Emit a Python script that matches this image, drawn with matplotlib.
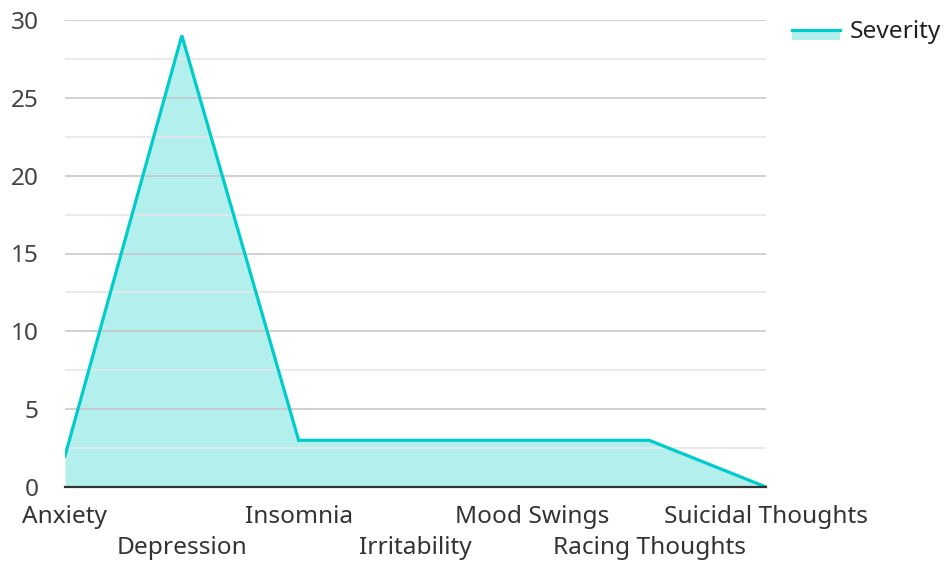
import matplotlib
matplotlib.use("Agg")
import matplotlib.pyplot as plt
from matplotlib.patches import Rectangle
from matplotlib.lines import Line2D
from matplotlib.legend_handler import HandlerBase

plt.rcParams['font.family'] = ['Noto Sans', 'DejaVu Sans']

# data
symptoms = ["Anxiety", "Depression", "Insomnia", "Irritability",
            "Mood Swings", "Racing Thoughts", "Suicidal Thoughts"]
severity = [2, 29, 3, 3, 3, 3, 0]
y_ticks = [0, 5, 10, 15, 20, 25, 30]

LINE_C = "#00cccc"
FILL_C = "#b2efed"
FS = 17.6


class AreaHandler(HandlerBase):
    """Legend key: line on top of a filled strip."""
    def create_artists(self, legend, orig, xd, yd, w, h, fontsize, trans):
        rect = Rectangle((xd, yd - 0.15 * h), w, 0.6 * h, facecolor=FILL_C,
                         edgecolor="none", transform=trans)
        ln = Line2D([xd, xd + w], [yd + 0.45 * h, yd + 0.45 * h], color=LINE_C,
                    lw=2.3, transform=trans)
        return [rect, ln]


fig = plt.figure(figsize=(9.45, 5.61), dpi=100)
ax = fig.add_axes([65 / 945, 74 / 561, 701 / 945, 467 / 561])

x = list(range(len(symptoms)))
ax.fill_between(x, severity, 0, color=FILL_C, lw=0, zorder=1)
ax.plot(x, severity, color=LINE_C, lw=2.3, zorder=3, solid_joinstyle="miter")

ax.set_xlim(0, len(symptoms) - 1)
ax.set_ylim(0, 30)

# grid: major every 5, minor every 2.5, drawn above the fill
for v in y_ticks[1:]:
    ax.axhline(v, color="#c8c8c8", lw=1.2, zorder=2)
for v in [2.5, 7.5, 12.5, 17.5, 22.5, 27.5]:
    ax.axhline(v, color="#e6e6e6", lw=1.2, zorder=2)
ax.axhline(0, color="#333333", lw=1.6, zorder=4, clip_on=False)

for s in ax.spines.values():
    s.set_visible(False)

ax.set_yticks(y_ticks)
ax.set_yticklabels([str(t) for t in y_ticks], fontsize=FS, color="#444444")
ax.tick_params(axis="y", length=0, pad=19)

ax.set_xticks(x)
ax.set_xticklabels([])
ax.tick_params(axis="x", length=0)
for i, name in enumerate(symptoms):
    dy = -30 if i % 2 == 0 else -61
    ax.annotate(name, xy=(i, 0), xycoords="data", xytext=(0, dy),
                textcoords="offset pixels", ha="center", va="center",
                fontsize=FS, color="#333333", annotation_clip=False)

leg = ax.legend([object()], ["Severity"], handler_map={object: AreaHandler()},
                loc="upper left", bbox_to_anchor=(1.016, 1.032), frameon=False,
                fontsize=FS, handlelength=1.95, handletextpad=0.4,
                borderaxespad=0.2)
for t in leg.get_texts():
    t.set_color("#222222")

fig.savefig("out.png", dpi=100)
